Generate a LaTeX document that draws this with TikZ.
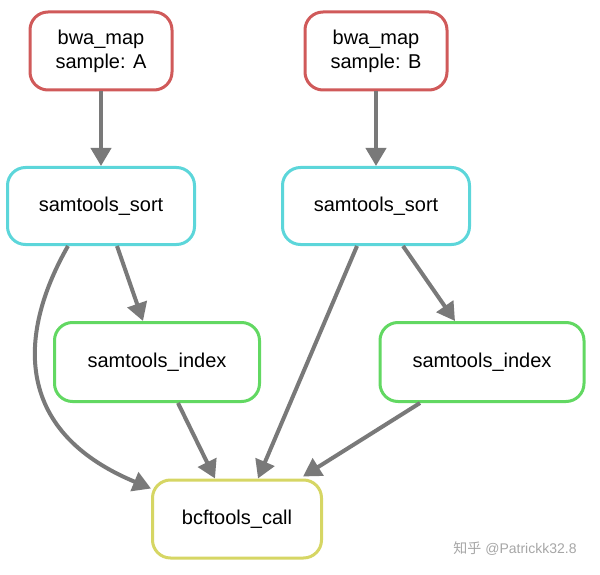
\documentclass[tikz,border=0pt]{standalone}
\usepackage{fontspec}
\setmainfont{Liberation Sans}
\newfontfamily\cjk{Noto Sans CJK SC}
\usetikzlibrary{arrows.meta}
\definecolor{cred}{HTML}{D05A5A}
\definecolor{ccyan}{HTML}{5CD6DA}
\definecolor{cgreen}{HTML}{62D862}
\definecolor{cyel}{HTML}{D6D664}
\tikzset{
 box/.style={draw, line width=3pt, rounded corners=18pt, fill=white, align=center, font=\fontsize{20}{24}\selectfont, inner sep=0pt},
 conn/.style={draw=gray!95!black, line width=4pt, -{Triangle[length=18pt,width=20pt]}}
}
\begin{document}
\begin{tikzpicture}[x=1pt,y=-1pt]
\useasboundingbox (0,0) rectangle (600,575);
\node[box,draw=cred,minimum width=142pt,minimum height=78pt] (ba) at (101,51) {bwa\_map\\sample: A};
\node[box,draw=cred,minimum width=142pt,minimum height=78pt] (bb) at (376,51) {bwa\_map\\sample: B};
\node[box,draw=ccyan,minimum width=187pt,minimum height=77pt] (sa) at (101,206) {samtools\_sort};
\node[box,draw=ccyan,minimum width=187pt,minimum height=77pt] (sb) at (376,206) {samtools\_sort};
\node[box,draw=cgreen,minimum width=205pt,minimum height=79pt] (ia) at (157,362) {samtools\_index};
\node[box,draw=cgreen,minimum width=204pt,minimum height=79pt] (ib) at (482,362) {samtools\_index};
\node[box,draw=cyel,minimum width=169pt,minimum height=78pt] (bc) at (237,519) {bcftools\_call};
\draw[conn] (ba) -- (sa);
\draw[conn] (bb) -- (sb);
\draw[conn] ([xshift=16pt]sa.south) -- ([xshift=-14pt]ia.north);
\draw[conn] ([xshift=-33pt]sa.south) .. controls (20,330) and (10,430) .. ([yshift=-10pt]bc.north west);
\draw[conn] ([xshift=-19pt]sb.south) -- ([xshift=21pt]bc.north);
\draw[conn] ([xshift=27pt]sb.south) -- ([xshift=-27pt]ib.north);
\draw[conn] ([xshift=21pt]ia.south) -- ([xshift=-22pt]bc.north);
\draw[conn] ([xshift=-62pt]ib.south) -- ([xshift=-20pt,yshift=2pt]bc.north east);
\node[text=gray!70, font=\fontsize{14}{16}\selectfont] (wm) at (515,549) {{\cjk 知乎} @Patrickk32.8};
\end{tikzpicture}
\end{document}
